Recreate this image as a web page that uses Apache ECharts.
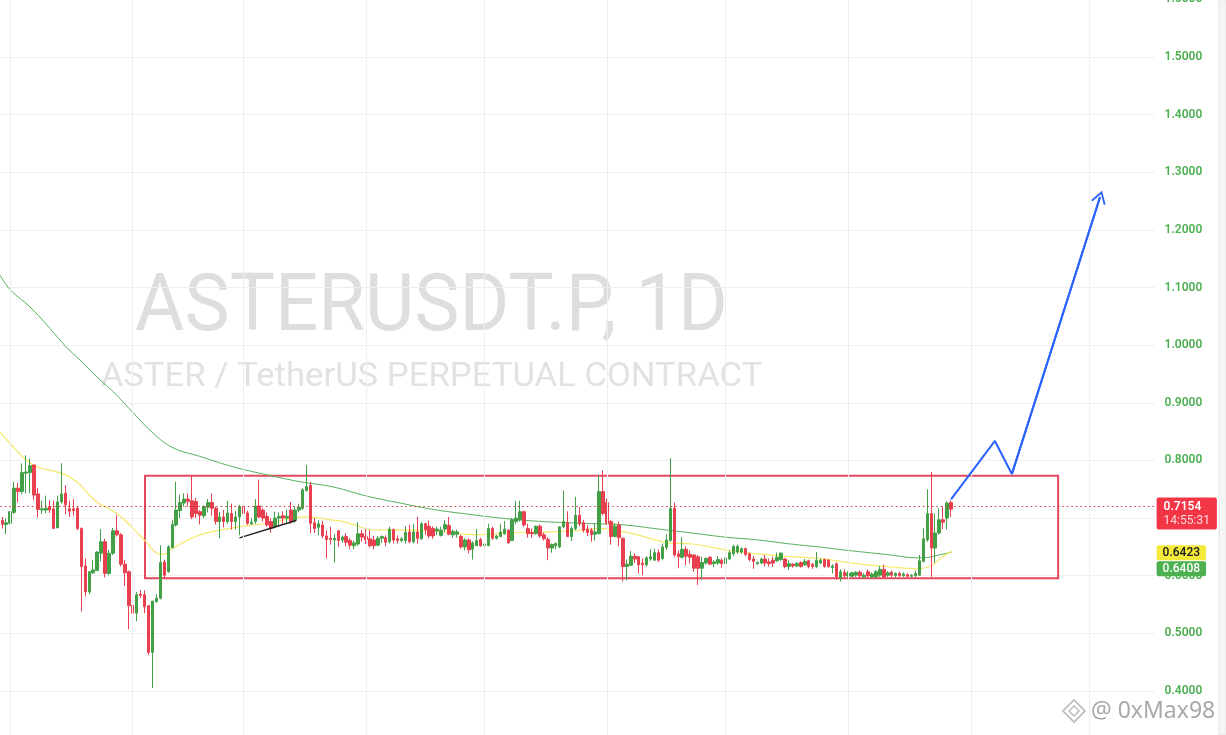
<!DOCTYPE html>
<html lang="en">
<head>
    <meta charset="utf-8">
    <title>ASTERUSDT.P 1D</title>
    <script src="https://cdn.jsdelivr.net/npm/echarts@6/dist/echarts.min.js"></script>
    <style>
        html, body { margin: 0; padding: 0; background: #fff; }
        #chart { width: 1226px; height: 735px; }
    </style>
</head>
<body>
<div id="chart"></div>
<script type="text/javascript">
    // daily candles, [open, close, low, high]
    var candles = [
        [0.696, 0.689, 0.682, 0.702], [0.689, 0.692, 0.672, 0.699], [0.691, 0.711, 0.689, 0.712], [0.710, 0.752, 0.707, 0.763],
        [0.752, 0.746, 0.727, 0.761], [0.746, 0.779, 0.741, 0.795], [0.778, 0.780, 0.743, 0.809], [0.779, 0.791, 0.743, 0.803],
        [0.792, 0.740, 0.731, 0.793], [0.742, 0.715, 0.701, 0.752], [0.714, 0.716, 0.707, 0.730], [0.714, 0.717, 0.709, 0.739],
        [0.720, 0.714, 0.709, 0.731], [0.716, 0.682, 0.682, 0.730], [0.683, 0.728, 0.683, 0.739], [0.728, 0.742, 0.725, 0.795],
        [0.743, 0.723, 0.707, 0.757], [0.716, 0.712, 0.702, 0.730], [0.716, 0.713, 0.704, 0.733], [0.717, 0.682, 0.679, 0.719],
        [0.682, 0.616, 0.538, 0.684], [0.617, 0.572, 0.564, 0.630], [0.572, 0.607, 0.568, 0.607], [0.605, 0.610, 0.603, 0.627],
        [0.609, 0.641, 0.609, 0.643], [0.639, 0.659, 0.625, 0.681], [0.659, 0.604, 0.597, 0.664], [0.604, 0.639, 0.601, 0.645],
        [0.639, 0.678, 0.636, 0.683], [0.678, 0.671, 0.668, 0.705], [0.671, 0.620, 0.616, 0.674], [0.620, 0.605, 0.582, 0.627],
        [0.607, 0.548, 0.507, 0.609], [0.549, 0.535, 0.535, 0.564], [0.535, 0.567, 0.521, 0.572], [0.568, 0.566, 0.561, 0.575],
        [0.567, 0.546, 0.535, 0.575], [0.548, 0.467, 0.462, 0.548], [0.467, 0.556, 0.405, 0.556], [0.555, 0.561, 0.553, 0.568],
        [0.561, 0.623, 0.559, 0.653], [0.624, 0.601, 0.595, 0.628], [0.607, 0.650, 0.605, 0.653], [0.649, 0.689, 0.647, 0.697],
        [0.688, 0.714, 0.685, 0.763], [0.713, 0.727, 0.700, 0.740], [0.726, 0.733, 0.720, 0.743], [0.733, 0.729, 0.720, 0.743],
        [0.730, 0.702, 0.698, 0.773], [0.729, 0.708, 0.700, 0.735], [0.711, 0.705, 0.689, 0.714], [0.704, 0.720, 0.700, 0.722],
        [0.719, 0.727, 0.710, 0.733], [0.727, 0.717, 0.704, 0.743], [0.717, 0.694, 0.689, 0.720], [0.694, 0.702, 0.665, 0.711],
        [0.702, 0.694, 0.684, 0.714], [0.694, 0.709, 0.690, 0.730], [0.708, 0.694, 0.680, 0.725], [0.694, 0.702, 0.680, 0.712],
        [0.702, 0.720, 0.670, 0.723], [0.720, 0.708, 0.705, 0.738], [0.709, 0.691, 0.688, 0.713], [0.690, 0.693, 0.688, 0.700],
        [0.694, 0.721, 0.690, 0.733], [0.721, 0.702, 0.700, 0.767], [0.714, 0.700, 0.694, 0.717], [0.703, 0.688, 0.685, 0.710],
        [0.694, 0.682, 0.675, 0.700], [0.685, 0.700, 0.682, 0.711], [0.700, 0.703, 0.688, 0.710], [0.704, 0.700, 0.690, 0.712],
        [0.700, 0.703, 0.692, 0.715], [0.714, 0.694, 0.690, 0.728], [0.696, 0.714, 0.692, 0.720], [0.714, 0.719, 0.710, 0.725],
        [0.717, 0.749, 0.714, 0.752], [0.748, 0.755, 0.746, 0.792], [0.757, 0.691, 0.674, 0.763], [0.692, 0.682, 0.674, 0.700],
        [0.684, 0.690, 0.670, 0.696], [0.688, 0.669, 0.665, 0.695], [0.669, 0.663, 0.630, 0.679], [0.665, 0.663, 0.654, 0.685],
        [0.662, 0.665, 0.623, 0.672], [0.678, 0.661, 0.650, 0.679], [0.662, 0.667, 0.657, 0.670], [0.668, 0.658, 0.651, 0.674],
        [0.661, 0.653, 0.646, 0.665], [0.652, 0.657, 0.646, 0.661], [0.655, 0.673, 0.652, 0.693], [0.673, 0.667, 0.659, 0.680],
        [0.668, 0.663, 0.655, 0.681], [0.664, 0.652, 0.649, 0.679], [0.662, 0.652, 0.646, 0.669], [0.653, 0.665, 0.651, 0.669],
        [0.665, 0.668, 0.657, 0.670], [0.666, 0.658, 0.651, 0.670], [0.659, 0.681, 0.656, 0.685], [0.680, 0.662, 0.656, 0.682],
        [0.664, 0.661, 0.656, 0.670], [0.661, 0.664, 0.658, 0.667], [0.661, 0.675, 0.656, 0.686], [0.676, 0.659, 0.656, 0.688],
        [0.659, 0.676, 0.656, 0.690], [0.676, 0.665, 0.656, 0.702], [0.664, 0.690, 0.662, 0.693], [0.690, 0.680, 0.671, 0.692],
        [0.686, 0.669, 0.665, 0.696], [0.682, 0.669, 0.664, 0.686], [0.678, 0.681, 0.670, 0.685], [0.670, 0.679, 0.668, 0.685],
        [0.681, 0.689, 0.676, 0.696], [0.687, 0.672, 0.670, 0.702], [0.671, 0.677, 0.666, 0.680], [0.672, 0.676, 0.666, 0.680],
        [0.668, 0.650, 0.647, 0.671], [0.650, 0.662, 0.644, 0.665], [0.662, 0.645, 0.639, 0.665], [0.646, 0.657, 0.628, 0.660],
        [0.652, 0.661, 0.652, 0.681], [0.663, 0.652, 0.650, 0.666], [0.652, 0.655, 0.650, 0.657], [0.652, 0.682, 0.652, 0.690],
        [0.682, 0.665, 0.662, 0.685], [0.665, 0.669, 0.663, 0.671], [0.668, 0.676, 0.667, 0.690], [0.673, 0.681, 0.671, 0.695],
        [0.679, 0.657, 0.656, 0.681], [0.661, 0.697, 0.660, 0.700], [0.694, 0.700, 0.690, 0.730], [0.697, 0.711, 0.694, 0.730],
        [0.711, 0.688, 0.685, 0.713], [0.682, 0.673, 0.666, 0.690], [0.675, 0.673, 0.666, 0.682], [0.673, 0.686, 0.671, 0.687],
        [0.686, 0.669, 0.666, 0.689], [0.671, 0.664, 0.661, 0.675], [0.663, 0.648, 0.627, 0.667], [0.648, 0.654, 0.640, 0.656],
        [0.652, 0.656, 0.646, 0.658], [0.650, 0.685, 0.648, 0.685], [0.685, 0.694, 0.682, 0.748], [0.692, 0.668, 0.667, 0.712],
        [0.668, 0.682, 0.660, 0.686], [0.682, 0.705, 0.679, 0.737], [0.705, 0.690, 0.686, 0.719], [0.692, 0.679, 0.675, 0.697],
        [0.681, 0.675, 0.669, 0.688], [0.679, 0.671, 0.659, 0.683], [0.672, 0.676, 0.661, 0.690], [0.673, 0.746, 0.672, 0.775],
        [0.746, 0.708, 0.705, 0.783], [0.727, 0.691, 0.688, 0.734], [0.694, 0.668, 0.654, 0.697], [0.668, 0.686, 0.667, 0.691],
        [0.688, 0.666, 0.651, 0.694], [0.665, 0.616, 0.590, 0.666], [0.616, 0.620, 0.592, 0.628], [0.618, 0.634, 0.617, 0.643],
        [0.634, 0.629, 0.622, 0.639], [0.633, 0.619, 0.604, 0.634], [0.622, 0.619, 0.601, 0.630], [0.619, 0.631, 0.616, 0.634],
        [0.629, 0.633, 0.626, 0.646], [0.627, 0.640, 0.626, 0.647], [0.640, 0.627, 0.624, 0.646], [0.630, 0.650, 0.627, 0.656],
        [0.649, 0.662, 0.645, 0.672], [0.661, 0.717, 0.659, 0.804], [0.717, 0.636, 0.633, 0.727], [0.638, 0.633, 0.613, 0.644],
        [0.632, 0.646, 0.630, 0.667], [0.646, 0.634, 0.618, 0.651], [0.637, 0.632, 0.621, 0.644], [0.636, 0.613, 0.607, 0.637],
        [0.633, 0.613, 0.584, 0.636], [0.613, 0.623, 0.593, 0.633], [0.622, 0.630, 0.619, 0.632], [0.632, 0.620, 0.619, 0.634],
        [0.621, 0.624, 0.615, 0.627], [0.622, 0.628, 0.619, 0.634], [0.627, 0.621, 0.614, 0.630], [0.621, 0.631, 0.619, 0.634],
        [0.629, 0.640, 0.627, 0.644], [0.638, 0.651, 0.634, 0.654], [0.641, 0.651, 0.638, 0.654], [0.641, 0.647, 0.638, 0.649],
        [0.647, 0.637, 0.634, 0.649], [0.638, 0.628, 0.625, 0.640], [0.629, 0.625, 0.612, 0.634], [0.621, 0.623, 0.619, 0.625],
        [0.622, 0.629, 0.620, 0.631], [0.629, 0.622, 0.616, 0.636], [0.624, 0.621, 0.616, 0.630], [0.627, 0.622, 0.615, 0.633],
        [0.626, 0.632, 0.624, 0.640], [0.628, 0.639, 0.626, 0.641], [0.629, 0.616, 0.613, 0.631], [0.616, 0.621, 0.610, 0.627],
        [0.620, 0.617, 0.614, 0.622], [0.617, 0.621, 0.615, 0.624], [0.623, 0.616, 0.614, 0.625], [0.619, 0.625, 0.617, 0.629],
        [0.626, 0.616, 0.613, 0.628], [0.620, 0.616, 0.612, 0.622], [0.616, 0.627, 0.613, 0.641], [0.622, 0.627, 0.620, 0.630],
        [0.628, 0.616, 0.614, 0.630], [0.627, 0.616, 0.614, 0.629], [0.614, 0.617, 0.604, 0.620], [0.621, 0.598, 0.593, 0.623],
        [0.596, 0.607, 0.590, 0.611], [0.606, 0.600, 0.594, 0.611], [0.600, 0.604, 0.597, 0.608], [0.599, 0.605, 0.597, 0.607],
        [0.601, 0.606, 0.598, 0.608], [0.606, 0.600, 0.597, 0.609], [0.598, 0.601, 0.595, 0.604], [0.607, 0.600, 0.597, 0.611],
        [0.598, 0.603, 0.595, 0.606], [0.598, 0.607, 0.596, 0.610], [0.601, 0.611, 0.598, 0.617], [0.611, 0.598, 0.596, 0.619],
        [0.601, 0.605, 0.598, 0.608], [0.606, 0.601, 0.598, 0.609], [0.600, 0.604, 0.597, 0.606], [0.604, 0.600, 0.598, 0.607],
        [0.600, 0.603, 0.598, 0.606], [0.602, 0.599, 0.597, 0.604], [0.599, 0.601, 0.597, 0.603], [0.600, 0.604, 0.598, 0.609],
        [0.601, 0.626, 0.600, 0.636], [0.625, 0.664, 0.623, 0.682], [0.662, 0.708, 0.659, 0.750], [0.708, 0.648, 0.598, 0.780],
        [0.648, 0.674, 0.622, 0.708], [0.674, 0.697, 0.671, 0.717], [0.697, 0.693, 0.681, 0.720], [0.700, 0.726, 0.680, 0.729],
        [0.727, 0.7154, 0.702, 0.731]
    ];

    // moving averages, [candle index, price]
    var maFast = [
        [-0.6, 0.849], [1.1, 0.836], [7.8, 0.792], [15, 0.778], [18.8, 0.763], [23.9, 0.728], [29, 0.708], [33, 0.683],
        [36.6, 0.657], [39.1, 0.639], [40.8, 0.637], [43.2, 0.648], [50, 0.671], [58.4, 0.683], [67, 0.691], [77.1, 0.702],
        [83, 0.697], [86.3, 0.694], [94.9, 0.679], [103.2, 0.679], [111.6, 0.676], [119.7, 0.671], [129.8, 0.675], [138.1, 0.676],
        [145, 0.678], [150.8, 0.682], [158.9, 0.674], [162.7, 0.667], [168.5, 0.657], [174.6, 0.655], [182.9, 0.645], [191.3, 0.638],
        [199.4, 0.633], [206.5, 0.630], [215.1, 0.622], [223.5, 0.616], [231.8, 0.612], [235.4, 0.619], [237.9, 0.633], [240.2, 0.6423]
    ];
    var maSlow = [
        [-0.6, 1.122], [1.9, 1.097], [7.8, 1.061], [16.3, 0.996], [19.7, 0.974], [24.7, 0.940], [28.1, 0.919], [33.2, 0.882],
        [38.2, 0.847], [43.2, 0.822], [50, 0.807], [58.4, 0.789], [67, 0.775], [75.4, 0.763], [83.7, 0.754], [92.3, 0.738],
        [100.7, 0.726], [109, 0.715], [117.6, 0.707], [126, 0.700], [134.4, 0.695], [142.9, 0.692], [151.3, 0.690], [157.6, 0.688],
        [166, 0.681], [174.6, 0.674], [182.9, 0.667], [191.3, 0.662], [199.4, 0.655], [206.5, 0.650], [215.1, 0.643], [223.5, 0.637],
        [231.8, 0.631], [234.4, 0.632], [236.9, 0.636], [240.2, 0.6408]
    ];

    var slotCount = 292;                                   // candles + empty space on the right
    var monthLines = [2, 33, 61, 92, 122, 153, 183, 214, 245, 275];
    var rangeBoxX = [36.1, 267.1];
    var rangeBoxY = [0.5955, 0.7735];
    var trendLine = [[60.0, 0.6658], [74.3, 0.6958]];
    var targetPath = [[240.0, 0.7326], [251.1, 0.8338], [255.4, 0.7765], [277.7, 1.257]];
    var lastPrice = 0.7154;
    var countdown = '14:55:31';
    var maFastLast = 0.6423;
    var maSlowLast = 0.6408;
    var yMin = 0.3, yMax = 1.6, yStep = 0.1;

    var UP = '#43a047';
    var DOWN = '#e8404f';
    var CLEAR = 'rgba(0,0,0,0)';

    var slots = [];
    for (var i = 0; i < slotCount; i++) {
        slots.push(String(i));
    }

    var chart = echarts.init(document.getElementById('chart'));

    var chevron = 'path://M0,0 L7,11 L5.6,12 L0,3 L-5.6,12 L-7,11 Z';
    var last = targetPath.length - 1;

    function badge(value, bg, fg, offsetY) {
        return {
            yAxis: value,
            lineStyle: { color: CLEAR, width: 0 },
            label: {
                show: true, position: 'end', distance: 2, offset: [0, offsetY],
                formatter: value.toFixed(4),
                backgroundColor: bg, color: fg,
                fontFamily: 'Roboto', fontSize: 12, fontWeight: 500,
                padding: [2, 6, 1, 6], borderRadius: 2
            }
        };
    }

    chart.setOption({
        animation: false,
        backgroundColor: '#ffffff',
        grid: { left: 0.32, right: 71.4, top: -0.64, bottom: -13.64, outerBoundsMode: 'none', containLabel: false },
        xAxis: [
            { type: 'category', data: slots, boundaryGap: true, show: false },
            { type: 'value', min: -0.5, max: slotCount - 0.5, show: false }
        ],
        yAxis: {
            type: 'value',
            position: 'right',
            min: yMin,
            max: yMax,
            interval: yStep,
            axisLine: { show: false },
            axisTick: { show: false },
            splitLine: { lineStyle: { color: '#efefef', width: 1 } },
            axisLabel: {
                margin: 10,
                color: '#4caf50',
                fontFamily: 'Roboto',
                fontSize: 12,
                fontWeight: 600,
                formatter: function (v) { return v.toFixed(4); }
            }
        },
        graphic: [
            {
                type: 'text', x: 431.5, y: 310, scaleX: 0.95, z: -10, silent: true,
                style: { text: 'ASTERUSDT.P, 1D', font: '80px Roboto', fill: '#dedede',
                    align: 'center', verticalAlign: 'middle', textAlign: 'center', textVerticalAlign: 'middle' }
            },
            {
                type: 'text', x: 431.5, y: 377, scaleX: 1.02, z: -10, silent: true,
                style: { text: 'ASTER / TetherUS PERPETUAL CONTRACT', font: '34px Roboto', fill: '#e2e2e2',
                    align: 'center', verticalAlign: 'middle', textAlign: 'center', textVerticalAlign: 'middle' }
            },
            {
                type: 'polygon', z: 10, silent: true,
                shape: { points: [[1074, 700], [1085, 711], [1074, 722], [1063, 711]] },
                style: { fill: 'none', stroke: '#b8b8b8', lineWidth: 1.6 }
            },
            {
                type: 'polygon', z: 10, silent: true,
                shape: { points: [[1074, 706], [1079, 711], [1074, 716], [1069, 711]] },
                style: { fill: 'none', stroke: '#b8b8b8', lineWidth: 1.4 }
            },
            {
                type: 'text', x: 1091, y: 711, z: 10, silent: true,
                style: { text: '@ 0xMax98', font: '23px "Noto Sans"', fill: '#a9a9a9',
                    align: 'left', verticalAlign: 'middle', textAlign: 'left', textVerticalAlign: 'middle' }
            },
            {
                type: 'rect', z: -5, silent: true,
                shape: { x: 1219, y: 0, width: 7, height: 735 },
                style: { fill: '#f5f5f5', stroke: '#e4e4e4', lineWidth: 1 }
            }
        ],
        series: [
            {
                name: 'monthGrid',
                type: 'line',
                xAxisIndex: 1,
                data: [],
                z: 0,
                silent: true,
                markLine: {
                    silent: true,
                    symbol: ['none', 'none'],
                    label: { show: false },
                    lineStyle: { color: '#efefef', width: 1, type: 'solid' },
                    data: monthLines.map(function (m) { return { xAxis: m }; })
                }
            },
            {
                name: 'MA slow',
                type: 'line',
                xAxisIndex: 1,
                data: maSlow,
                smooth: 0.4,
                symbol: 'none',
                z: 2,
                lineStyle: { color: '#55b25a', width: 1 }
            },
            {
                name: 'MA fast',
                type: 'line',
                xAxisIndex: 1,
                data: maFast,
                smooth: 0.4,
                symbol: 'none',
                z: 2,
                lineStyle: { color: '#f6e96b', width: 1.2 }
            },
            {
                name: 'ASTERUSDT.P',
                type: 'candlestick',
                xAxisIndex: 0,
                data: candles,
                barWidth: 3,
                z: 3,
                itemStyle: {
                    color: UP,
                    color0: DOWN,
                    borderColor: UP,
                    borderColor0: DOWN,
                    borderWidth: 1
                }
            },
            {
                name: 'trend',
                type: 'line',
                xAxisIndex: 1,
                data: trendLine,
                symbol: 'none',
                z: 4,
                lineStyle: { color: '#1e1e1e', width: 1.4 }
            },
            {
                name: 'target',
                type: 'line',
                xAxisIndex: 1,
                data: targetPath,
                symbol: 'none',
                z: 6,
                lineStyle: { color: '#2962ff', width: 2 },
                markLine: {
                    silent: true,
                    label: { show: false },
                    lineStyle: { color: '#2962ff', width: 2, type: 'solid' },
                    data: [[
                        { coord: targetPath[last - 1], symbol: 'none' },
                        { coord: targetPath[last], symbol: chevron, symbolSize: [15, 13] }
                    ]]
                }
            },
            {
                name: 'overlay',
                type: 'line',
                xAxisIndex: 1,
                data: [],
                z: 5,
                silent: true,
                markArea: {
                    silent: true,
                    itemStyle: { color: CLEAR, borderColor: '#e5485c', borderWidth: 2 },
                    data: [[
                        { coord: [rangeBoxX[0], rangeBoxY[1]] },
                        { coord: [rangeBoxX[1], rangeBoxY[0]] }
                    ]]
                },
                markLine: {
                    silent: true,
                    symbol: ['none', 'none'],
                    data: [
                        badge(maSlowLast, '#4caf50', '#ffffff', 16),
                        badge(maFastLast, '#f5ea3a', '#131722', 0),
                        {
                            yAxis: lastPrice,
                            lineStyle: { color: '#c8303f', width: 1, type: [1.5, 3] },
                            label: {
                                show: true, position: 'end', distance: 2, offset: [0, 7],
                                formatter: '{p|' + lastPrice.toFixed(4) + '}\n{t|' + countdown + '}',
                                backgroundColor: '#f23645',
                                padding: [2, 7, 2, 7], borderRadius: 2,
                                rich: {
                                    p: { color: '#ffffff', fontFamily: 'Roboto', fontSize: 12, fontWeight: 600, lineHeight: 14 },
                                    t: { color: '#ffd9dd', fontFamily: 'Roboto', fontSize: 12, lineHeight: 14 }
                                }
                            }
                        }
                    ]
                }
            }
        ]
    });
</script>
</body>
</html>
